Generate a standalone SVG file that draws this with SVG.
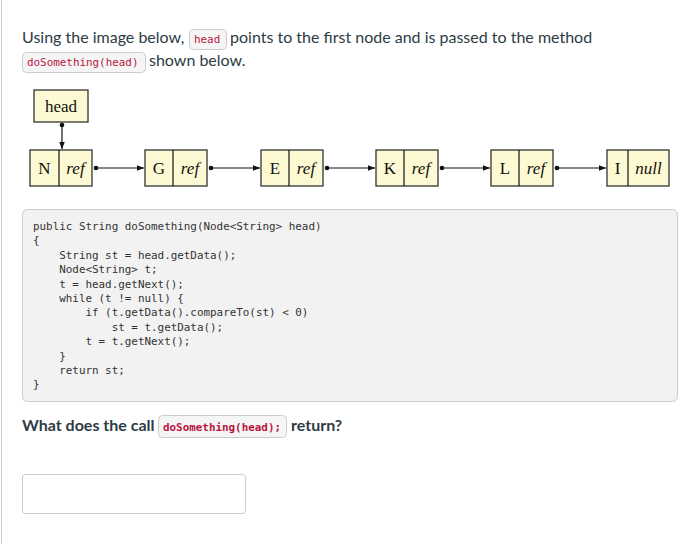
<svg xmlns="http://www.w3.org/2000/svg" width="691" height="544" viewBox="0 0 691 544">
<style>
.t{font-family:Lato,"Noto Sans",sans-serif;font-size:16px;fill:#2d3b45}
.tb{font-family:Lato,"Noto Sans",sans-serif;font-size:16px;font-weight:bold;fill:#2d3b45}
.chip{fill:#f5f5f5;stroke:#c7cdd1;stroke-width:1}
.ct{font-family:"DejaVu Sans Mono","Liberation Mono",monospace;font-size:10.9px;fill:#b8163e}
.code{font-family:"DejaVu Sans Mono","Liberation Mono",monospace;font-size:10.9px;fill:#333;white-space:pre}
.box{fill:#fdf9d2;stroke:#333;stroke-width:1.3}
.nt{font-family:"Liberation Serif",serif;font-size:17px;fill:#111;text-anchor:middle}
.ni{font-family:"Liberation Serif",serif;font-size:17px;font-style:italic;fill:#111;text-anchor:middle}
.ln{stroke:#111;stroke-width:1.2;fill:none}
</style>
<defs>
<marker id="ah" viewBox="0 0 10 10" refX="10" refY="5" markerWidth="7" markerHeight="7" markerUnits="userSpaceOnUse" orient="auto">
<path d="M0,1 L10,5 L0,9 Z" fill="#111"/>
</marker>
</defs>
<rect x="0" y="0" width="691" height="544" fill="#fff"/>
<line x1="1.5" y1="0" x2="1.5" y2="544" stroke="#c7cdd1" stroke-width="1"/>

<g id="question-text">
<text class="t" x="22" y="43">Using the image below,</text>
<rect class="chip" x="189.5" y="29.5" width="37" height="20" rx="4"/>
<text class="ct" x="194" y="43">head</text>
<text class="t" x="230" y="43">points to the first node and is passed to the method</text>
<rect class="chip" x="22.5" y="52.5" width="123" height="20" rx="4"/>
<text class="ct" x="27" y="66">doSomething(head)</text>
<text class="t" x="149" y="66">shown below.</text>
</g>

<g id="head">
<rect class="box" x="34" y="90" width="54" height="32"/>
<text class="nt" x="61" y="112">head</text>
</g>

<g id="node-N">
<rect class="box" x="30" y="150" width="62" height="36"/>
<line class="ln" x1="59" y1="150" x2="59" y2="186"/>
<text class="nt" x="44.5" y="174">N</text>
<text class="ni" x="75.5" y="174">ref</text>
</g>
<g id="node-G">
<rect class="box" x="145" y="150" width="62" height="36"/>
<line class="ln" x1="173" y1="150" x2="173" y2="186"/>
<text class="nt" x="159" y="174">G</text>
<text class="ni" x="190" y="174">ref</text>
</g>
<g id="node-E">
<rect class="box" x="261" y="150" width="62" height="36"/>
<line class="ln" x1="289" y1="150" x2="289" y2="186"/>
<text class="nt" x="275" y="174">E</text>
<text class="ni" x="306" y="174">ref</text>
</g>
<g id="node-K">
<rect class="box" x="376" y="150" width="62" height="36"/>
<line class="ln" x1="404" y1="150" x2="404" y2="186"/>
<text class="nt" x="390" y="174">K</text>
<text class="ni" x="421" y="174">ref</text>
</g>
<g id="node-L">
<rect class="box" x="491" y="150" width="62" height="36"/>
<line class="ln" x1="519" y1="150" x2="519" y2="186"/>
<text class="nt" x="505" y="174">L</text>
<text class="ni" x="536" y="174">ref</text>
</g>
<g id="node-I">
<rect class="box" x="607" y="150" width="62" height="36"/>
<line class="ln" x1="628" y1="150" x2="628" y2="186"/>
<text class="nt" x="617.5" y="174">I</text>
<text class="ni" x="648.5" y="174">null</text>
</g>

<g id="connectors">
<circle cx="62" cy="125" r="2.3" fill="#111"/>
<line class="ln" x1="62" y1="125" x2="62" y2="149" marker-end="url(#ah)"/>
<circle cx="96" cy="168" r="2.3" fill="#111"/>
<line class="ln" x1="96" y1="168" x2="144" y2="168" marker-end="url(#ah)"/>
<circle cx="211" cy="168" r="2.3" fill="#111"/>
<line class="ln" x1="211" y1="168" x2="260" y2="168" marker-end="url(#ah)"/>
<circle cx="327" cy="168" r="2.3" fill="#111"/>
<line class="ln" x1="327" y1="168" x2="375" y2="168" marker-end="url(#ah)"/>
<circle cx="442" cy="168" r="2.3" fill="#111"/>
<line class="ln" x1="442" y1="168" x2="490" y2="168" marker-end="url(#ah)"/>
<circle cx="557" cy="168" r="2.3" fill="#111"/>
<line class="ln" x1="557" y1="168" x2="606" y2="168" marker-end="url(#ah)"/>
</g>

<g id="code-block">
<rect x="22.5" y="209.5" width="655" height="192" rx="5" fill="#f2f2f2" stroke="#c7cdd1"/>
<text class="code" x="33" y="230">public String doSomething(Node&lt;String&gt; head)</text>
<text class="code" x="33" y="244.4">{</text>
<text class="code" x="33" y="258.8">    String st = head.getData();</text>
<text class="code" x="33" y="273.2">    Node&lt;String&gt; t;</text>
<text class="code" x="33" y="287.6">    t = head.getNext();</text>
<text class="code" x="33" y="302">    while (t != null) {</text>
<text class="code" x="33" y="316.4">        if (t.getData().compareTo(st) &lt; 0)</text>
<text class="code" x="33" y="330.8">            st = t.getData();</text>
<text class="code" x="33" y="345.2">        t = t.getNext();</text>
<text class="code" x="33" y="359.6">    }</text>
<text class="code" x="33" y="374">    return st;</text>
<text class="code" x="33" y="388.4">}</text>
</g>

<g id="prompt">
<text class="tb" x="22" y="431">What does the call</text>
<rect class="chip" x="158.5" y="415.5" width="128" height="22" rx="4"/>
<text class="ct" x="163" y="430.5" font-weight="bold">doSomething(head);</text>
<text class="tb" x="291" y="431">return?</text>
</g>

<g id="answer-box">
<rect x="22.5" y="474.5" width="223" height="39" rx="3" fill="#fff" stroke="#c7cdd1"/>
</g>
</svg>
